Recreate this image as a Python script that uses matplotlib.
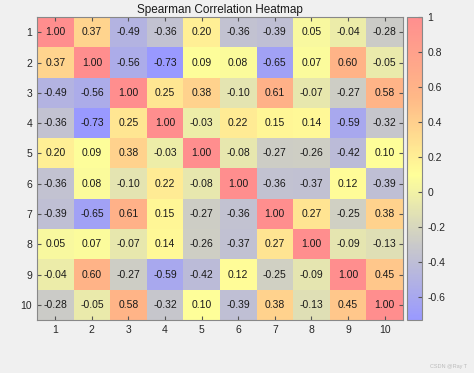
import numpy as np
import matplotlib
matplotlib.use("Agg")
import matplotlib.pyplot as plt
from matplotlib.colors import LinearSegmentedColormap

labels = [str(i) for i in range(1, 11)]
corr = np.array([
    [1.00, 0.37, -0.49, -0.36, 0.20, -0.36, -0.39, 0.05, -0.04, -0.28],
    [0.37, 1.00, -0.56, -0.73, 0.09, 0.08, -0.65, 0.07, 0.60, -0.05],
    [-0.49, -0.56, 1.00, 0.25, 0.38, -0.10, 0.61, -0.07, -0.27, 0.58],
    [-0.36, -0.73, 0.25, 1.00, -0.03, 0.22, 0.15, 0.14, -0.59, -0.32],
    [0.20, 0.09, 0.38, -0.03, 1.00, -0.08, -0.27, -0.26, -0.42, 0.10],
    [-0.36, 0.08, -0.10, 0.22, -0.08, 1.00, -0.36, -0.37, 0.12, -0.39],
    [-0.39, -0.65, 0.61, 0.15, -0.27, -0.36, 1.00, 0.27, -0.25, 0.38],
    [0.05, 0.07, -0.07, 0.14, -0.26, -0.37, 0.27, 1.00, -0.09, -0.13],
    [-0.04, 0.60, -0.27, -0.59, -0.42, 0.12, -0.25, -0.09, 1.00, 0.45],
    [-0.28, -0.05, 0.58, -0.32, 0.10, -0.39, 0.38, -0.13, 0.45, 1.00],
])

plt.rcParams['font.family'] = ['Liberation Sans', 'DejaVu Sans']

vmin, vmax = corr.min(), corr.max()
def pos(v):
    return (v - vmin) / (vmax - vmin)

cmap = LinearSegmentedColormap.from_list("rwb", [
    (0.0, (0.60, 0.60, 1.00)),
    (pos(-0.30), (0.79, 0.79, 0.79)),
    (pos(0.10), (1.00, 1.00, 0.60)),
    (pos(0.55), (1.00, 0.72, 0.53)),
    (1.0, (1.00, 0.56, 0.56)),
])

fig = plt.figure(figsize=(4.74, 3.73), dpi=100, facecolor='#f0f0f0')
ax = fig.add_axes([0.078, 0.142, 0.772, 0.812])
cax = fig.add_axes([0.859, 0.142, 0.032, 0.812])

im = ax.imshow(corr, cmap=cmap, vmin=vmin, vmax=vmax, aspect='auto',
               extent=(0.5, 10.5, 10.5, 0.5))
for i in range(10):
    for j in range(10):
        ax.text(j + 1, i + 1, f"{corr[i, j]:.2f}", ha='center', va='center',
                fontsize=7.5, color='#1a1a1a')

ax.set_xticks(range(1, 11))
ax.set_yticks(range(1, 11))
ax.set_xticklabels(labels)
ax.set_yticklabels(labels)
ax.tick_params(direction='in', length=3, labelsize=7.5, colors='#555555',
               labelcolor='#262626', top=True, right=True)
for s in ax.spines.values():
    s.set_color('#888888')
    s.set_linewidth(0.8)
ax.set_title("Spearman Correlation Heatmap", fontsize=8.5, color='#1a1a1a', pad=3)

cb = fig.colorbar(im, cax=cax)
cb.set_ticks([-0.6, -0.4, -0.2, 0, 0.2, 0.4, 0.6, 0.8, 1])
cb.set_ticklabels(['-0.6', '-0.4', '-0.2', '0', '0.2', '0.4', '0.6', '0.8', '1'])
cax.tick_params(direction='in', length=3, labelsize=7.5, colors='#555555',
                labelcolor='#262626')
cb.outline.set_edgecolor('#888888')
cb.outline.set_linewidth(0.8)

fig.text(0.985, 0.01, "CSDN @Ray T", fontsize=4, color='#bbbbbb', ha='right', va='bottom')

fig.savefig("out.png", dpi=100, facecolor=fig.get_facecolor())
